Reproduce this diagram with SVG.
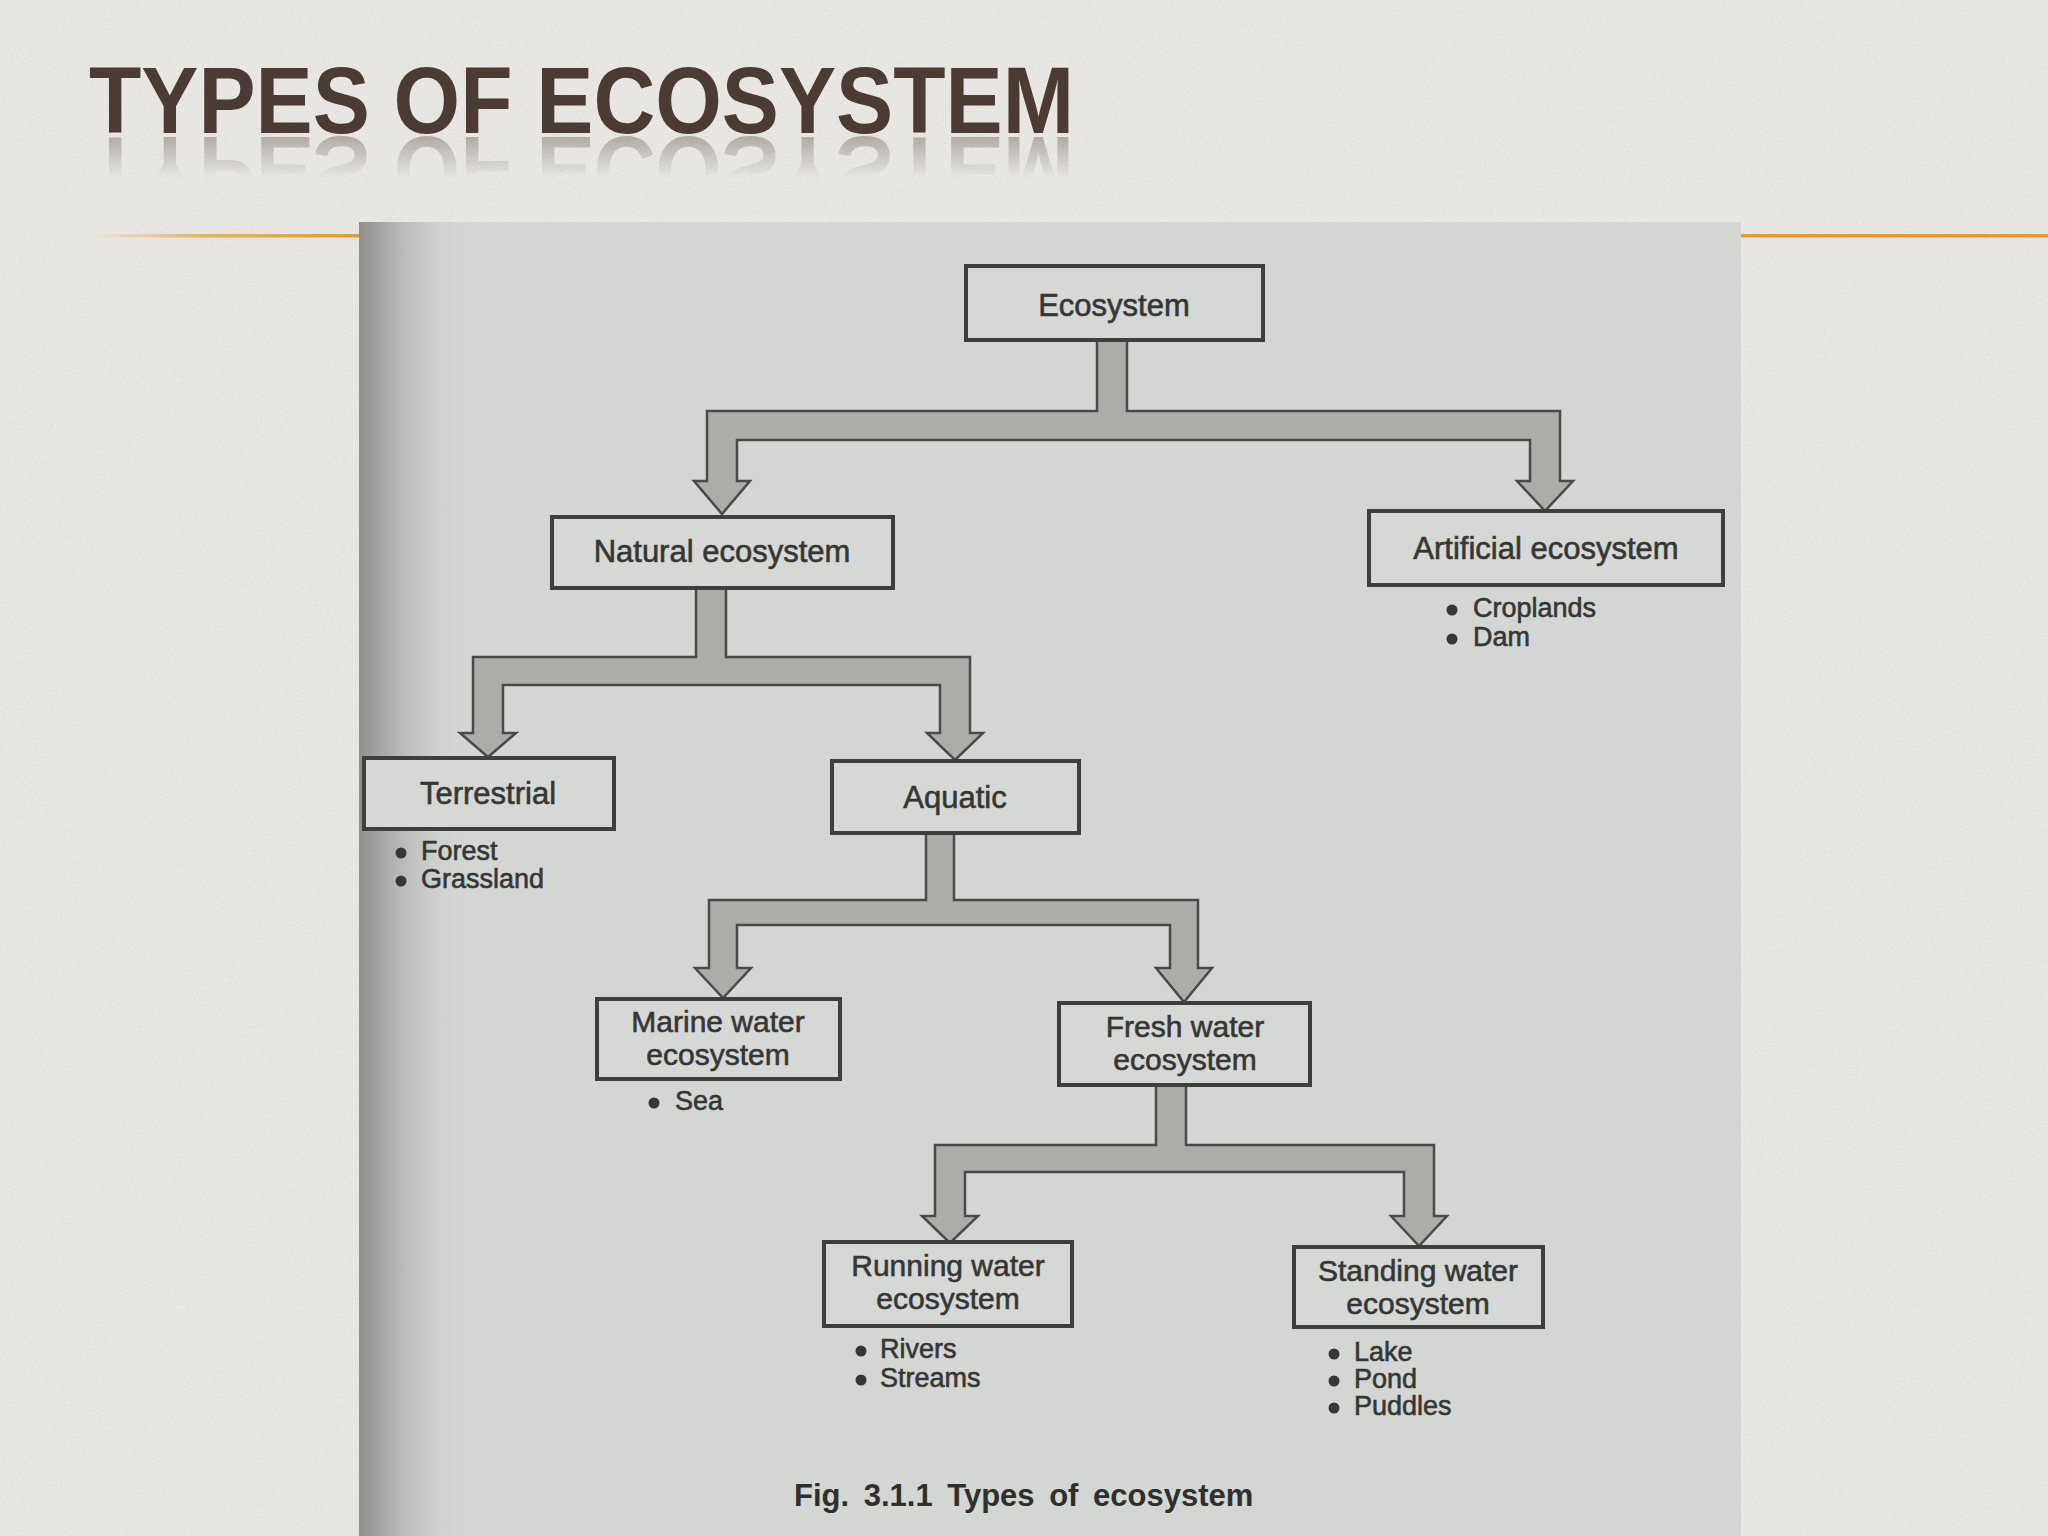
<svg xmlns="http://www.w3.org/2000/svg" xmlns:xlink="http://www.w3.org/1999/xlink" width="2048" height="1536" viewBox="0 0 2048 1536">
<defs>
<style>
.box{fill:#d5d8d4;stroke:#3e3f3d;stroke-width:4}
.lbl{font-family:"Liberation Sans",Arial,sans-serif;font-size:31px;fill:#363735;stroke:#363735;stroke-width:0.6;text-anchor:middle;dominant-baseline:central}
.lbl2{font-family:"Liberation Sans",Arial,sans-serif;font-size:30px;fill:#363735;stroke:#363735;stroke-width:0.6;text-anchor:middle;dominant-baseline:central}
.bul{font-family:"Liberation Sans",Arial,sans-serif;font-size:27px;fill:#363735;stroke:#363735;stroke-width:0.6;dominant-baseline:central}
.dot{fill:#363735}
.arr{fill:#abadA9;stroke:#4a4b49;stroke-width:2.5;stroke-linejoin:miter}
</style>
<filter id="noise" x="0" y="0" width="100%" height="100%">
<feTurbulence type="fractalNoise" baseFrequency="0.9" numOctaves="2" seed="3"/>
<feColorMatrix type="matrix" values="0 0 0 0 0.55  0 0 0 0 0.55  0 0 0 0 0.53  0 0 0 -1.1 0.75"/>
</filter>
<linearGradient id="orangeL" x1="89" y1="0" x2="359" y2="0" gradientUnits="userSpaceOnUse">
<stop offset="0" stop-color="#e9a23a" stop-opacity="0"/>
<stop offset="0.45" stop-color="#e9a23a" stop-opacity="0.8"/>
<stop offset="1" stop-color="#e59a2f"/>
</linearGradient>
<linearGradient id="shadowL" x1="359" y1="0" x2="470" y2="0" gradientUnits="userSpaceOnUse">
<stop offset="0" stop-color="#8e908d"/>
<stop offset="0.35" stop-color="#b4b7b3"/>
<stop offset="1" stop-color="#d3d6d2" stop-opacity="0"/>
</linearGradient>
<linearGradient id="reflFade" x1="0" y1="136" x2="0" y2="178" gradientUnits="userSpaceOnUse">
<stop offset="0" stop-color="#fff" stop-opacity="0.35"/>
<stop offset="1" stop-color="#fff" stop-opacity="0"/>
</linearGradient>
<mask id="reflMask" maskUnits="userSpaceOnUse" x="0" y="130" width="1200" height="60">
<rect x="0" y="130" width="1200" height="60" fill="url(#reflFade)"/>
</mask>
</defs>

<!-- slide background -->
<rect x="0" y="0" width="2048" height="1536" fill="#eceae6"/>
<rect x="0" y="0" width="2048" height="1536" filter="url(#noise)" opacity="0.55"/>

<!-- title -->
<g id="title">
<text id="titleText" x="89" y="133" font-family="'Liberation Sans',Arial,sans-serif" font-weight="bold" font-size="95" fill="#4a3b34" textLength="985" lengthAdjust="spacingAndGlyphs">TYPES OF ECOSYSTEM</text>
<g mask="url(#reflMask)">
<use xlink:href="#titleText" href="#titleText" transform="translate(0,270) scale(1,-1)" fill="#6a6460"/>
</g>
</g>

<!-- orange rule -->
<rect x="89" y="234" width="270" height="3.5" fill="url(#orangeL)"/>
<rect x="1741" y="234" width="307" height="3.5" fill="#e59a2f"/>

<!-- photo page -->
<rect x="359" y="222" width="1382" height="1314" fill="#d3d6d2"/>
<rect x="359" y="222" width="111" height="1314" fill="url(#shadowL)"/>

<!-- connectors -->
<g id="connectors">
<path class="arr" d="M1097,340 V411 H707 V481 H694 L722,514 L750,481 H737 V440 H1530 V481 H1517 L1545,511 L1573,481 H1560 V411 H1127 V340 Z"/>
<path class="arr" d="M696,588 V657 H473 V733 H460 L488,757 L516,733 H503 V685 H940 V733 H927 L955,760 L983,733 H970 V657 H726 V588 Z"/>
<path class="arr" d="M926,833 V900 H709 V968 H695 L723,998 L751,968 H737 V925 H1170 V968 H1156 L1184,1002 L1212,968 H1198 V900 H954 V833 Z"/>
<path class="arr" d="M1156,1085 V1145 H935 V1216 H922 L950,1243 L978,1216 H965 V1172 H1404 V1216 H1391 L1419,1246 L1447,1216 H1434 V1145 H1186 V1085 Z"/>
</g>

<!-- nodes -->
<g id="node-ecosystem">
<rect class="box" x="966" y="266" width="297" height="74"/>
<text class="lbl" x="1114" y="305">Ecosystem</text>
</g>

<g id="node-natural">
<rect class="box" x="552" y="517" width="341" height="71"/>
<text class="lbl" x="722" y="551">Natural ecosystem</text>
</g>

<g id="node-artificial">
<rect class="box" x="1369" y="511" width="354" height="74"/>
<text class="lbl" x="1546" y="548">Artificial ecosystem</text>
<circle class="dot" cx="1452" cy="610" r="5.5"/>
<text class="bul" x="1473" y="608">Croplands</text>
<circle class="dot" cx="1452" cy="639" r="5.5"/>
<text class="bul" x="1473" y="637">Dam</text>
</g>

<g id="node-terrestrial">
<rect class="box" x="364" y="758" width="250" height="71"/>
<text class="lbl" x="488" y="793">Terrestrial</text>
<circle class="dot" cx="401" cy="853" r="5.5"/>
<text class="bul" x="421" y="851">Forest</text>
<circle class="dot" cx="401" cy="881" r="5.5"/>
<text class="bul" x="421" y="879">Grassland</text>
</g>

<g id="node-aquatic">
<rect class="box" x="832" y="761" width="247" height="72"/>
<text class="lbl" x="955" y="797">Aquatic</text>
</g>

<g id="node-marine">
<rect class="box" x="597" y="999" width="243" height="80"/>
<text class="lbl2" x="718" y="1021">Marine water</text>
<text class="lbl2" x="718" y="1054">ecosystem</text>
<circle class="dot" cx="654" cy="1103" r="5.5"/>
<text class="bul" x="675" y="1101">Sea</text>
</g>

<g id="node-fresh">
<rect class="box" x="1059" y="1003" width="251" height="82"/>
<text class="lbl2" x="1185" y="1026">Fresh water</text>
<text class="lbl2" x="1185" y="1059">ecosystem</text>
</g>

<g id="node-running">
<rect class="box" x="824" y="1242" width="248" height="84"/>
<text class="lbl2" x="948" y="1265">Running water</text>
<text class="lbl2" x="948" y="1298">ecosystem</text>
<circle class="dot" cx="861" cy="1351" r="5.5"/>
<text class="bul" x="880" y="1349">Rivers</text>
<circle class="dot" cx="861" cy="1380" r="5.5"/>
<text class="bul" x="880" y="1378">Streams</text>
</g>

<g id="node-standing">
<rect class="box" x="1294" y="1247" width="249" height="80"/>
<text class="lbl2" x="1418" y="1270">Standing water</text>
<text class="lbl2" x="1418" y="1303">ecosystem</text>
<circle class="dot" cx="1334" cy="1354" r="5.5"/>
<text class="bul" x="1354" y="1352">Lake</text>
<circle class="dot" cx="1334" cy="1381" r="5.5"/>
<text class="bul" x="1354" y="1379">Pond</text>
<circle class="dot" cx="1334" cy="1408" r="5.5"/>
<text class="bul" x="1354" y="1406">Puddles</text>
</g>

<!-- caption -->
<text x="794" y="1506" font-family="'Liberation Sans',Arial,sans-serif" font-weight="bold" font-size="31" fill="#2f302e" word-spacing="6">Fig. 3.1.1 Types of ecosystem</text>
</svg>
